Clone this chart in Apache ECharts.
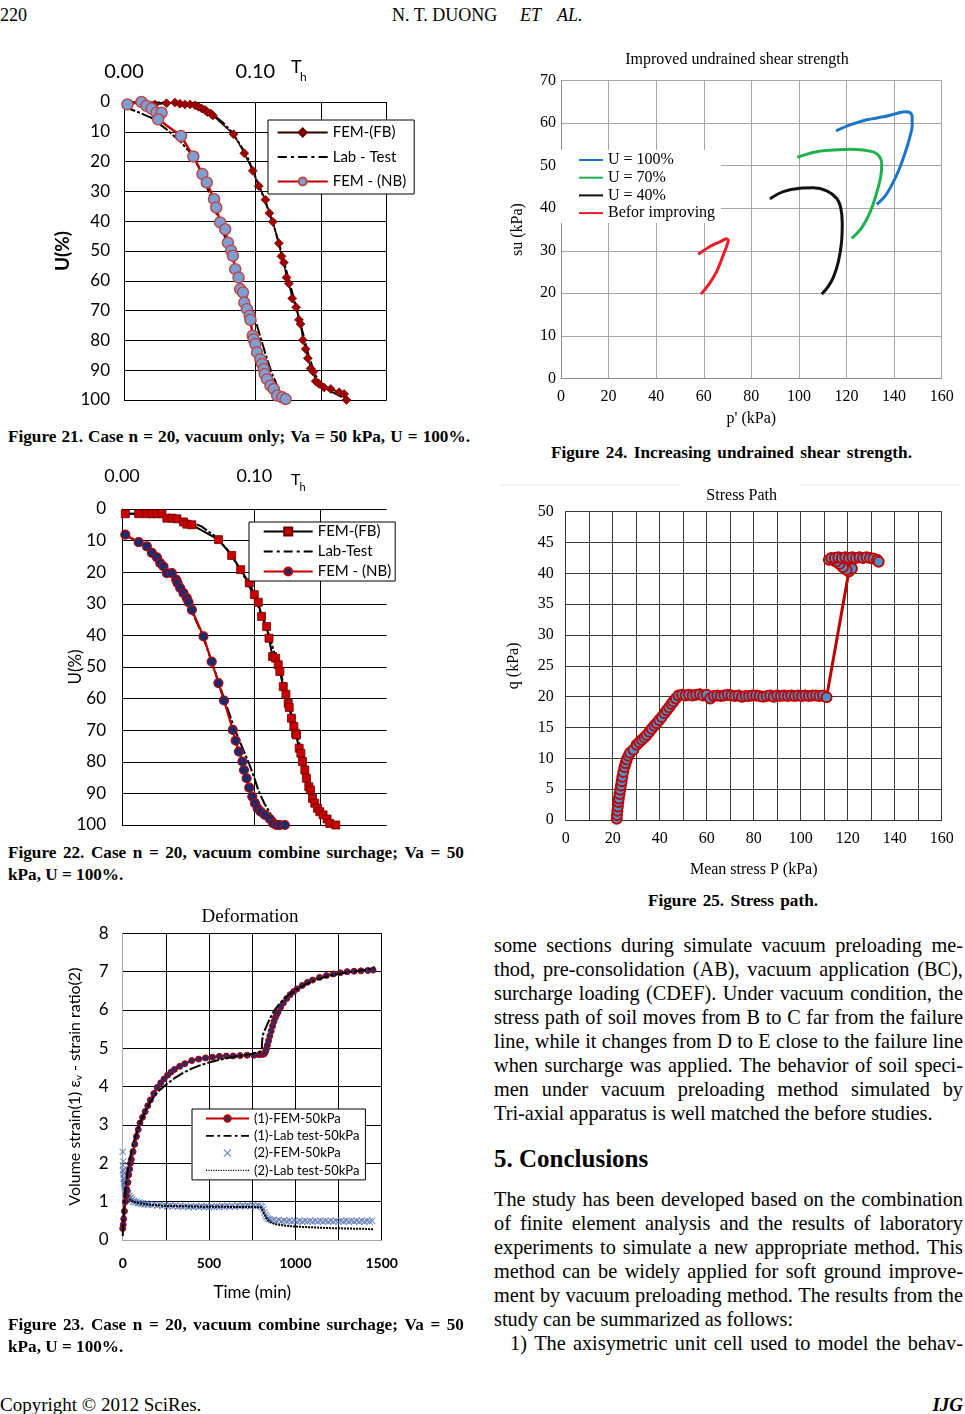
<!DOCTYPE html>
<html><head><meta charset="utf-8">
<script src="https://cdn.jsdelivr.net/npm/echarts@6.0.0/dist/echarts.min.js"></script>
<style>
html,body{margin:0;padding:0;background:#fff;}
body{width:965px;height:1414px;position:relative;overflow:hidden;font-family:'Liberation Serif','Times New Roman',serif;color:#000;}
.c{position:absolute;}
.t{position:absolute;white-space:nowrap;}
.b{font-weight:bold;}
.bd{font-size:20.3px;line-height:24px;height:24px;left:494px;width:469px;}
.cap{font-size:17.2px;line-height:22px;height:22px;font-weight:bold;}
.j{display:flex;justify-content:space-between;}
</style></head><body>

<div class="t" style="left:0;top:4px;font-size:18px;line-height:22px;">220</div>
<div class="t" style="left:392px;top:4px;font-size:18px;line-height:22px;">N. T. DUONG</div>
<div class="t" style="left:520px;top:4px;font-size:18px;line-height:22px;font-style:italic;">ET</div>
<div class="t" style="left:557px;top:4px;font-size:18px;line-height:22px;font-style:italic;">AL.</div>

<div id="d21" class="c" style="left:0;top:45px;width:480px;height:370px;"></div>
<div id="d22" class="c" style="left:0;top:455px;width:480px;height:380px;"></div>
<div id="d23" class="c" style="left:0;top:895px;width:480px;height:420px;"></div>
<div id="d24" class="c" style="left:490px;top:40px;width:475px;height:395px;"></div>
<div id="d25" class="c" style="left:490px;top:478px;width:475px;height:405px;"></div>

<div class="t cap j" style="left:8px;top:426px;width:462px;">Figure 21. Case n = 20, vacuum only; Va = 50 kPa, U = 100%.</div>
<div class="t cap j" style="left:8px;top:842px;width:456px;">Figure 22. Case n = 20, vacuum combine surchage; Va = 50</div>
<div class="t cap" style="left:8px;top:864px;">kPa, U = 100%.</div>
<div class="t cap j" style="left:8px;top:1314px;width:456px;">Figure 23. Case n = 20, vacuum combine surchage; Va = 50</div>
<div class="t cap" style="left:8px;top:1336px;">kPa, U = 100%.</div>
<div class="t cap j" style="left:551px;top:442px;width:361px;">Figure 24. Increasing undrained shear strength.</div>
<div class="t cap j" style="left:648px;top:890px;width:170px;">Figure 25. Stress path.</div>

<div class="t bd j" style="top:933px;">some sections during simulate vacuum preloading me-</div>
<div class="t bd j" style="top:957px;">thod, pre-consolidation (AB), vacuum application (BC),</div>
<div class="t bd j" style="top:981px;">surcharge loading (CDEF). Under vacuum condition, the</div>
<div class="t bd j" style="top:1005px;">stress path of soil moves from B to C far from the failure</div>
<div class="t bd j" style="top:1029px;">line, while it changes from D to E close to the failure line</div>
<div class="t bd j" style="top:1053px;">when surcharge was applied. The behavior of soil speci-</div>
<div class="t bd j" style="top:1077px;">men under vacuum preloading method simulated by</div>
<div class="t bd" style="top:1101px;">Tri-axial apparatus is well matched the before studies.</div>
<div class="t b" style="left:494px;top:1145px;font-size:25px;line-height:28px;">5. Conclusions</div>
<div class="t bd j" style="top:1187px;">The study has been developed based on the combination</div>
<div class="t bd j" style="top:1211px;">of finite element analysis and the results of laboratory</div>
<div class="t bd j" style="top:1235px;">experiments to simulate a new appropriate method. This</div>
<div class="t bd j" style="top:1259px;">method can be widely applied for soft ground improve-</div>
<div class="t bd j" style="top:1283px;">ment by vacuum preloading method. The results from the</div>
<div class="t bd" style="top:1307px;">study can be summarized as follows:</div>
<div class="t bd j" style="top:1331px;left:510px;width:453px;">1) The axisymetric unit cell used to model the behav-</div>

<div class="t" style="left:0;top:1394px;font-size:19px;line-height:22px;">Copyright © 2012 SciRes.</div>
<div class="t" style="left:900px;top:1394px;width:63px;text-align:right;font-size:19px;line-height:22px;font-weight:bold;font-style:italic;">IJG</div>

<script>
// justify lines: each word becomes a flex item spread across the line
document.querySelectorAll('.j').forEach(el => {
  const words = el.textContent.trim().split(/\s+/);
  el.textContent = '';
  words.forEach(w => { const s = document.createElement('span'); s.textContent = w; el.appendChild(s); });
});

// ---------------- DATA ----------------
// Figure 21 (Th, U%)
const fig21_FEM_FB = [[0.0235,0.8],[0.0324,0.4],[0.0388,0.2],[0.0426,0.6],[0.0464,0.8],[0.0503,0.8],[0.0541,1.1],[0.0566,1.6],[0.0592,2.2],[0.0617,2.7],[0.0635,3.4],[0.0661,3.9],[0.0676,4.5],[0.0834,10.8],[0.0916,17.2],[0.098,23.1],[0.1026,28.2],[0.1077,32.8],[0.1107,37.3],[0.1133,40.2],[0.1179,47.4],[0.1199,51.8],[0.1217,53.9],[0.1237,58.9],[0.1255,60.9],[0.1281,65.9],[0.1311,68.9],[0.1332,73.1],[0.1344,74.5],[0.1362,79.9],[0.1383,82.9],[0.14,86.0],[0.1421,89.4],[0.1441,90.5],[0.1459,93.7],[0.1485,94.6],[0.1523,95.8],[0.1574,96.3],[0.1638,97.4],[0.1676,98.0],[0.1694,100]];
const fig21_Lab_FB = [[0,0],[0.03,0.2],[0.045,0.6],[0.055,1.3],[0.062,2.5],[0.068,4.2],[0.075,6.8],[0.082,10],[0.088,14],[0.094,18.5],[0.1,25],[0.105,30.5],[0.11,36.5],[0.115,43],[0.12,50.5],[0.125,59],[0.13,67],[0.135,75.5],[0.14,84],[0.145,91],[0.15,95],[0.157,97],[0.165,98.8],[0.17,100]];
const fig21_Lab_NB = [[0,1.6],[0.012,3.6],[0.0209,5.3],[0.0324,9.2],[0.0426,13.1],[0.0515,17.5],[0.0592,23.7],[0.0656,31.5],[0.0719,39.3],[0.0783,47.2],[0.0847,55.0],[0.0911,62.8],[0.0962,68.9],[0.1013,75.1],[0.1051,80.7],[0.1089,86.3],[0.1128,91.3],[0.1166,95.2],[0.1204,98.6],[0.123,100]];
const fig21_FEM_NB = [[0.0026,0.8],[0.0133,0],[0.0171,1.3],[0.0209,2.2],[0.0247,3.6],[0.0286,3.6],[0.026,5.8],[0.0434,11.4],[0.0528,18.3],[0.0597,24.2],[0.063,27.0],[0.0686,32.6],[0.0702,35.4],[0.0732,40.4],[0.077,42.7],[0.0791,47.2],[0.0816,49.9],[0.0829,51.6],[0.0847,56.1],[0.0872,58.9],[0.0885,62.8],[0.0906,63.9],[0.0916,67.3],[0.0936,69.5],[0.0957,71.7],[0.0962,73.1],[0.098,78.4],[0.0987,79.6],[0.1,81.2],[0.1013,84.0],[0.1038,86.3],[0.1051,87.9],[0.1064,89.6],[0.1071,91.3],[0.1089,93.0],[0.1115,95.2],[0.114,96.3],[0.1166,98.5],[0.1204,99.1],[0.123,99.7]];

// Figure 22 (Th, U%)
const fig22_FEM_FB = [[0.0025,1.5],[0.0126,1.5],[0.0188,1.5],[0.0226,1.5],[0.0264,1.5],[0.0302,1.5],[0.0339,2.9],[0.0377,2.9],[0.0415,3.1],[0.0465,4.1],[0.049,4.8],[0.0528,5.0],[0.0729,9.7],[0.0829,14.7],[0.0897,19.2],[0.0962,23.4],[0.1,27.1],[0.103,29.5],[0.1055,34.0],[0.1093,37.2],[0.1111,40.9],[0.1138,46.7],[0.1161,47.2],[0.1181,49.3],[0.1193,51.4],[0.1219,56.2],[0.1239,58.6],[0.1256,61.5],[0.1264,62.8],[0.1281,66.2],[0.1299,68.8],[0.1312,71.0],[0.1319,71.5],[0.1339,75.7],[0.1352,77.3],[0.1364,79.9],[0.1382,82.6],[0.1394,85.2],[0.1412,87.9],[0.1425,88.9],[0.144,91.6],[0.1457,93.1],[0.1477,94.7],[0.1495,95.8],[0.152,96.8],[0.155,98.1],[0.157,99.5],[0.1616,100]];
const fig22_Lab_FB = [[0,1.5],[0.02,1.5],[0.035,2.2],[0.05,3.8],[0.06,5.5],[0.07,8.5],[0.08,13],[0.09,19.5],[0.1,27.5],[0.11,38.5],[0.12,52],[0.13,68],[0.137,78.5],[0.143,89],[0.148,95],[0.153,98],[0.16,100]];
const fig22_Lab_NB = [[0,8],[0.01,9.8],[0.02,12.5],[0.03,17.5],[0.04,22.5],[0.05,30],[0.06,39],[0.07,51],[0.078,61],[0.085,69.5],[0.091,75.5],[0.0955,80],[0.1,85],[0.103,89],[0.108,93.5],[0.113,97],[0.118,99.3],[0.121,100]];
const fig22_FEM_NB = [[0.0025,8.1],[0.0126,10.5],[0.0188,11.8],[0.0226,13.9],[0.0264,15.3],[0.0289,17.1],[0.0314,18.2],[0.0339,20.3],[0.0377,20.3],[0.041,22.4],[0.042,23.4],[0.044,25.0],[0.0465,26.6],[0.049,28.2],[0.0503,29.5],[0.0528,31.9],[0.0616,40.3],[0.0678,48.3],[0.0729,55.1],[0.0771,60.6],[0.0837,69.9],[0.0859,73.3],[0.0884,76.8],[0.091,79.9],[0.0922,82.6],[0.0942,85.2],[0.0962,88.2],[0.0985,91.0],[0.1005,93.1],[0.1025,94.7],[0.1048,95.8],[0.108,96.8],[0.1118,98.1],[0.1143,99.5],[0.1168,100],[0.1193,100],[0.1231,100]];
const th_tick_labels = [0, 0.1];

// Figure 23 (time min, value)
const fig23_FEM1 = [[0,0.3],[3,0.4],[6,0.55],[10,0.75],[15,1.0],[20,1.15],[25,1.3],[30,1.5],[35,1.7],[40,1.85],[45,2.0],[50,2.1],[60,2.3],[70,2.5],[80,2.7],[90,2.88],[100,3.05],[115,3.2],[130,3.35],[145,3.5],[160,3.65],[180,3.82],[200,3.98],[220,4.1],[240,4.2],[260,4.3],[280,4.38],[300,4.45],[330,4.53],[360,4.6],[400,4.68],[440,4.72],[480,4.75],[520,4.77],[560,4.79],[600,4.8],[640,4.8],[680,4.81],[720,4.82],[760,4.82],[790,4.83],[810,4.84],[820,4.86],[826,4.9],[832,4.98],[838,5.08],[845,5.2],[852,5.32],[860,5.45],[868,5.58],[876,5.7],[884,5.8],[892,5.88],[900,5.95],[915,6.08],[930,6.18],[950,6.3],[970,6.4],[990,6.48],[1010,6.55],[1040,6.64],[1070,6.72],[1100,6.78],[1140,6.85],[1180,6.9],[1220,6.94],[1260,6.97],[1300,7.0],[1340,7.01],[1380,7.02],[1420,7.03],[1450,7.04]];
const fig23_Lab1 = [[0,0.1],[3,0.4],[6,0.7],[10,1.0],[15,1.3],[20,1.5],[30,1.85],[40,2.1],[50,2.3],[60,2.5],[80,2.8],[100,3.05],[130,3.35],[160,3.6],[200,3.85],[250,4.05],[300,4.22],[350,4.36],[400,4.47],[450,4.56],[500,4.63],[550,4.69],[600,4.74],[650,4.78],[700,4.82],[750,4.86],[790,4.9],[805,4.95],[808,5.2],[812,5.35],[820,5.45],[835,5.6],[850,5.75],[873,5.95],[900,6.12],[950,6.35],[1000,6.52],[1050,6.65],[1100,6.75],[1150,6.83],[1200,6.89],[1250,6.94],[1300,6.98],[1350,7.01],[1400,7.04],[1440,7.08],[1460,7.12]];
const fig23_FEM2 = [[0,2.3],[1,1.95],[2,1.8],[3,2.05],[4,1.7],[5,1.6],[6,1.85],[7,1.5],[8,1.75],[9,1.45],[10,1.62],[11,1.4],[12,1.55],[13,1.35],[14,1.5],[15,1.3],[17,1.42],[19,1.28],[21,1.35],[23,1.22],[25,1.3],[28,1.18],[31,1.22],[34,1.12],[38,1.15],[42,1.08],[46,1.1],[50,1.04],[55,1.06],[60,1.0],[66,1.02],[72,0.98],[80,1.0],[88,0.96],[96,0.98],[105,0.94],[115,0.96],[125,0.93],[135,0.95],[145,0.92],[155,0.94],[170,0.91],[185,0.93],[200,0.9],[215,0.92],[230,0.89],[245,0.91],[260,0.88],[275,0.9],[290,0.88],[305,0.9],[320,0.87],[335,0.89],[350,0.87],[365,0.89],[380,0.86],[395,0.88],[410,0.86],[425,0.88],[440,0.86],[455,0.88],[470,0.86],[485,0.88],[500,0.86],[515,0.88],[530,0.86],[545,0.88],[560,0.87],[575,0.89],[590,0.87],[605,0.89],[620,0.87],[635,0.89],[650,0.87],[665,0.9],[680,0.88],[695,0.9],[710,0.88],[725,0.9],[740,0.88],[755,0.9],[770,0.88],[785,0.9],[800,0.89],[808,0.86],[814,0.8],[820,0.72],[826,0.65],[832,0.6],[840,0.56],[850,0.54],[860,0.52],[875,0.53],[890,0.5],[905,0.52],[920,0.49],[935,0.51],[950,0.49],[965,0.51],[980,0.48],[995,0.5],[1010,0.48],[1025,0.5],[1040,0.48],[1055,0.5],[1070,0.48],[1085,0.5],[1100,0.48],[1115,0.5],[1130,0.48],[1145,0.5],[1160,0.48],[1175,0.5],[1190,0.48],[1205,0.5],[1220,0.48],[1235,0.5],[1250,0.48],[1265,0.5],[1280,0.48],[1295,0.5],[1310,0.48],[1325,0.5],[1340,0.48],[1355,0.5],[1370,0.48],[1385,0.5],[1400,0.48],[1415,0.5],[1430,0.48],[1445,0.5]];
const fig23_Lab2 = [[10,1.25],[15,1.15],[25,1.09],[40,1.05],[60,1.0],[100,0.96],[160,0.92],[250,0.89],[350,0.88],[450,0.87],[550,0.87],[650,0.86],[750,0.86],[800,0.85],[810,0.8],[820,0.68],[830,0.58],[845,0.5],[860,0.45],[880,0.42],[900,0.4],[950,0.37],[1000,0.35],[1100,0.33],[1200,0.31],[1300,0.3],[1400,0.29],[1450,0.28]];
const time_tick_labels = [0, 500, 1000, 1500];

// Figure 24 (p', su)
const fig24_U100 = [[115.6,58.2],[121.5,59.6],[128.5,60.8],[135.5,61.5],[141.1,62.3],[144.6,62.7],[146.6,62.5],[147.6,61.4],[147.6,59.6],[146.5,56.5],[144.5,52.8],[142,49],[139.7,46.2],[136.5,43.1],[132.7,40.9]];
const fig24_U70 = [[99.3,52],[107.5,53.3],[114.5,53.7],[121.5,53.9],[127,53.7],[131.5,53.2],[133.8,52.2],[134.8,50.6],[134.4,47.5],[132.6,43.5],[130,39.2],[126.5,35.5],[122.2,32.9]];
const fig24_U40 = [[87.8,42.2],[93.4,43.9],[100.5,44.7],[106,44.8],[111.7,44.1],[115.9,42.3],[117.6,40],[118.2,36.5],[117.9,32],[116.6,27.5],[114.5,23.8],[112.2,21.5],[109.6,19.8]];
const fig24_Before = [[57.7,29.2],[62.6,31],[66.8,32.1],[69.6,32.8],[70.3,32.5],[68.2,29],[65.4,25.1],[61.9,21.9],[58.8,19.8]];

// Figure 25 (P, q)
const fig25_path = [[21.7,0.2],[21.8,0.8],[22.0,1.5],[22.2,2.2],[22.4,2.9],[22.6,3.5],[22.9,4.2],[23.2,4.9],[23.5,5.6],[23.8,6.3],[24.1,7.0],[24.5,7.8],[25.0,8.6],[25.5,9.2],[26.0,9.8],[26.7,10.4],[27.4,10.9],[28.8,11.4],[30.2,12.2],[31.3,12.6],[32.4,13.0],[33.5,13.4],[34.5,13.8],[35.6,14.3],[36.6,14.8],[37.7,15.3],[38.7,15.7],[39.8,16.2],[40.9,16.7],[42.0,17.3],[43.0,17.8],[44.0,18.3],[45.0,18.8],[45.8,19.2],[46.9,19.7],[48.0,20.2],[49.5,20.3],[51,20.2],[52.5,20.3],[54,20.2],[55.5,20.3],[57,20.4],[58.5,20.2],[60,20.3],[61.5,19.7],[63,20.1],[64.5,20.2],[66,20.1],[67.5,20.2],[69,20.3],[70.5,20.2],[72,20.1],[73.5,20.2],[75,20.0],[76.5,20.1],[78,20.1],[79.5,20.2],[81,20.2],[82.5,20.1],[84,20.0],[85.5,20.1],[87,20.2],[88.5,20.0],[90,20.2],[91.5,20.1],[93,20.2],[94.5,20.1],[96,20.2],[97.5,20.1],[99,20.2],[100.5,20.1],[102,20.2],[103.5,20.1],[105,20.2],[106.5,20.2],[108,20.1],[109.5,20.2],[111,19.9],[120.5,40.3],[121.8,40.8],[119.5,40.6],[118,41.0],[116.5,41.5],[115,41.9],[113.5,42.2],[112,42.2],[113,42.5],[114.5,42.5],[116,42.6],[117.5,42.5],[119,42.6],[120.5,42.5],[122,42.6],[123.5,42.5],[125,42.6],[126.5,42.5],[128,42.6],[129.5,42.5],[131,42.4],[132.5,42.2],[133.2,41.9]];
const p_tick_step = 20;

// ---------------- STYLE HELPERS ----------------
const DASHDOT = 'path://M0,0h9v2h-9zM13,0h3v2h-3zM20,0h9v2h-9zM33,0h3v2h-3zM40,0h9v2h-9z';
function dotIcon(w){ let s='path://'; for(let x=0;x<w;x+=2.4){ s+='M'+x.toFixed(1)+',0h1.1v1.1h-1.1z'; } return s; }
const XSYM = 'path://M0,1L1,0L5,4L9,0L10,1L6,5L10,9L9,10L5,6L1,10L0,9L4,5Z';
const near = (a,b)=>Math.abs(a-b)<1e-9;
function mk(id, opt){ const c = echarts.init(document.getElementById(id)); c.setOption(opt); }
const hidden = {color:'rgba(0,0,0,0)'};

function thChart(o){
  return {
    animation:false,
    grid:o.grid,
    xAxis:{type:'value', position:'top', min:0, max:0.2, interval:0.05,
      axisLine:{show:false}, axisTick:{show:false},
      axisLabel:{formatter:v=> th_tick_labels.some(t=>near(t,v)) ? v.toFixed(2) : '', fontFamily:'Lato', fontSize:o.xFont, color:'#000', margin:o.xMargin},
      splitLine:{show:true, lineStyle:{color:o.vColors, width:1}}},
    yAxis:{type:'value', inverse:true, min:0, max:100, interval:10,
      axisLine:{show:true, lineStyle:{color:'#000', width:1}}, axisTick:{show:false},
      axisLabel:{fontFamily:'Lato', fontSize:17, color:'#000', margin:o.yMargin},
      splitLine:{show:true, lineStyle:{color:'#000', width:1}},
      name:'U(%)', nameLocation:'middle', nameGap:o.nameGap, nameMoveOverlap:false,
      nameTextStyle:{fontFamily:'Lato', fontSize:o.nameSize, fontWeight:o.nameWeight, color:'#000'}},
    legend:Object.assign({orient:'vertical', backgroundColor:'#fff', borderColor:'#000', borderWidth:1, borderRadius:0,
      itemWidth:50, itemHeight:10, textStyle:{fontFamily:'Lato', fontSize:15, color:'#000'}}, o.legend),
    graphic:[
      {type:'text', x:o.T[0], y:o.T[1], style:{text:'T', font:o.T[2]+'px Lato', fill:'#000'}},
      {type:'text', x:o.h[0], y:o.h[1], style:{text:'h', font:o.h[2]+'px Lato', fill:'#000'}}
    ],
    series:o.series
  };
}

// ---------------- FIGURE 21 ----------------
mk('d21', thChart({
  grid:{left:124, top:57, width:262.7, height:298},
  xFont:20, xMargin:20, yMargin:14, nameGap:52, nameSize:19, nameWeight:'bold',
  vColors:['#000','rgba(0,0,0,0)','#000','#000','#000'],
  T:[291,13,18], h:[300,26,12],
  legend:{left:268, top:75, padding:[5,8,5,8.7], itemGap:9.5,
    data:['FEM-(FB)', {name:'Lab - Test', icon:DASHDOT, itemStyle:{color:'#000'}}, 'FEM - (NB)']},
  series:[
    {name:'Lab - Test', type:'line', data:fig21_Lab_NB, symbol:'circle', showSymbol:false, itemStyle:hidden, lineStyle:{color:'#000', width:2, type:[12,2,3,2]}, z:2},
    {name:'Lab - Test', type:'line', data:fig21_Lab_FB, symbol:'circle', showSymbol:false, itemStyle:hidden, lineStyle:{color:'#000', width:2, type:[12,2,3,2]}, z:2},
    {name:'FEM-(FB)', type:'line', data:fig21_FEM_FB, symbol:'diamond', symbolSize:9, showAllSymbol:true,
      itemStyle:{color:'#a00000', borderColor:'#5a0000', borderWidth:0.6}, lineStyle:{color:'#2a0000', width:1.5}, z:3},
    {name:'FEM - (NB)', type:'line', data:fig21_FEM_NB, symbol:'circle', symbolSize:11, showAllSymbol:true,
      itemStyle:{color:'#7d9fd3', borderColor:'#b84a4a', borderWidth:1.5}, lineStyle:{color:'#c00000', width:2.5}, z:4}
  ]
}));

// ---------------- FIGURE 22 ----------------
mk('d22', thChart({
  grid:{left:122, top:54, width:264.6, height:316},
  xFont:18, xMargin:24, yMargin:16, nameGap:38, nameSize:17, nameWeight:'normal',
  vColors:['#000','rgba(0,0,0,0)','#000','#000','rgba(0,0,0,0)'],
  T:[291,17,16], h:[299.5,27,11],
  legend:{left:249, top:67, padding:[2,4,2,13.7], itemGap:5, itemWidth:49,
    data:['FEM-(FB)', {name:'Lab-Test', icon:DASHDOT, itemStyle:{color:'#000'}}, 'FEM - (NB)']},
  series:[
    {name:'Lab-Test', type:'line', data:fig22_Lab_NB, symbol:'circle', showSymbol:false, itemStyle:hidden, lineStyle:{color:'#000', width:2, type:[12,2,3,2]}, z:2},
    {name:'Lab-Test', type:'line', data:fig22_Lab_FB, symbol:'circle', showSymbol:false, itemStyle:hidden, lineStyle:{color:'#000', width:2, type:[12,2,3,2]}, z:2},
    {name:'FEM-(FB)', type:'line', data:fig22_FEM_FB, symbol:'rect', symbolSize:8, showAllSymbol:true,
      itemStyle:{color:'#c80000', borderColor:'#6a0000', borderWidth:0.8}, lineStyle:{color:'#000', width:2}, z:3},
    {name:'FEM - (NB)', type:'line', data:fig22_FEM_NB, symbol:'circle', symbolSize:9, showAllSymbol:true,
      itemStyle:{color:'#1c2a6b', borderColor:'#c00000', borderWidth:1.2}, lineStyle:{color:'#c00000', width:2.2}, z:4}
  ]
}));

// ---------------- FIGURE 23 ----------------
mk('d23', {
  animation:false,
  grid:{left:122.7, top:38.3, width:259, height:306.7},
  xAxis:{type:'value', min:0, max:1500, interval:250,
    axisLine:{show:true, lineStyle:{color:'#a6a6a6'}}, axisTick:{show:false},
    axisLabel:{formatter:v=> time_tick_labels.indexOf(v)>=0 ? String(v) : '', fontFamily:'Lato', fontSize:14, fontWeight:'bold', color:'#000', margin:16},
    splitLine:{show:true, lineStyle:{color:'#000'}},
    name:'Time (min)', nameLocation:'middle', nameGap:44, nameMoveOverlap:false, nameTextStyle:{fontFamily:'Lato', fontSize:17, color:'#000'}},
  yAxis:{type:'value', min:0, max:8, interval:1,
    axisLine:{show:true, lineStyle:{color:'#a6a6a6'}}, axisTick:{show:false},
    axisLabel:{fontFamily:'Lato', fontSize:17, color:'#000', margin:14},
    splitLine:{show:true, lineStyle:{color:'#000'}},
    name:'Volume strain(1) ε{s|v} - strain ratio(2)', nameLocation:'middle', nameGap:39, nameMoveOverlap:false,
    nameTextStyle:{fontFamily:'Lato', fontSize:16, color:'#000', rich:{s:{fontFamily:'Lato', fontSize:10, color:'#000', padding:[8,0,0,0]}}}},
  graphic:[{type:'text', x:250, y:22, style:{text:'Deformation', font:'19px "Liberation Serif"', fill:'#000', textAlign:'center', align:'center', textVerticalAlign:'middle', verticalAlign:'middle'}}],
  legend:{left:192, top:214, orient:'vertical', backgroundColor:'#fff', borderColor:'#000', borderWidth:1, borderRadius:0,
    padding:[3,6,3,13], itemGap:4.3, itemWidth:43, itemHeight:8, textStyle:{fontFamily:'Lato', fontSize:13, color:'#000'},
    data:['(1)-FEM-50kPa', {name:'(1)-Lab test-50kPa', icon:DASHDOT, itemStyle:{color:'#000'}}, '(2)-FEM-50kPa', {name:'(2)-Lab test-50kPa', icon:dotIcon(43), itemStyle:{color:'#000'}}]},
  series:[
    {name:'(2)-FEM-50kPa', type:'scatter', data:fig23_FEM2, symbol:XSYM, symbolSize:7, itemStyle:{color:'#4d6cb0'}, z:2},
    {name:'(2)-Lab test-50kPa', type:'line', data:fig23_Lab2, symbol:'circle', showSymbol:false, itemStyle:hidden, lineStyle:{color:'#000', width:2, type:[2,1]}, z:3},
    {name:'(1)-FEM-50kPa', type:'line', data:fig23_FEM1, symbol:'circle', symbolSize:6, showAllSymbol:true,
      itemStyle:{color:'#2a2a6a', borderColor:'#b00000', borderWidth:1}, lineStyle:{color:'#c00000', width:2.5}, z:3},
    {name:'(1)-Lab test-50kPa', type:'line', data:fig23_Lab1, symbol:'circle', showSymbol:false, itemStyle:hidden, lineStyle:{color:'#000', width:2, type:[12,2,3,2]}, z:4}
  ]
});

// ---------------- FIGURE 24 ----------------
const serif = 'Liberation Serif';
function suLine(name, data, color, smooth){
  return {name, type:'line', data, smooth, symbol:'circle', showSymbol:false, itemStyle:hidden, lineStyle:{color, width:3}};
}
mk('d24', {
  animation:false,
  grid:{left:71, top:40.7, width:380.7, height:297.6},
  xAxis:{type:'value', min:0, max:160, interval:20,
    axisLine:{show:true, lineStyle:{color:'#8c8c8c'}}, axisTick:{show:false},
    axisLabel:{fontFamily:serif, fontSize:16, color:'#000', margin:10},
    splitLine:{show:true, lineStyle:{color:'#a6a6a6'}},
    name:"p' (kPa)", nameLocation:'middle', nameGap:32, nameMoveOverlap:false, nameTextStyle:{fontFamily:serif, fontSize:16, color:'#000'}},
  yAxis:{type:'value', min:0, max:70, interval:10,
    axisLine:{show:true, lineStyle:{color:'#8c8c8c'}}, axisTick:{show:false},
    axisLabel:{fontFamily:serif, fontSize:16, color:'#000', margin:5},
    splitLine:{show:true, lineStyle:{color:'#a6a6a6'}},
    name:'su (kPa)', nameLocation:'middle', nameGap:35, nameMoveOverlap:false, nameTextStyle:{fontFamily:serif, fontSize:16, color:'#000'}},
  graphic:[{type:'text', x:247, y:20, style:{text:'Improved undrained shear strength', font:'16px "Liberation Serif"', fill:'#000', textAlign:'center', align:'center', textVerticalAlign:'middle', verticalAlign:'middle'}}],
  legend:{left:71, top:110, orient:'vertical', backgroundColor:'#fff', padding:[2,6,2,17], itemGap:1.7, itemWidth:24, itemHeight:10,
    textStyle:{fontFamily:serif, fontSize:16, color:'#000'},
    data:['U = 100%','U = 70%','U = 40%','Befor improving']},
  series:[
    suLine('U = 100%', fig24_U100, '#1b76c9', 0.35),
    suLine('U = 70%', fig24_U70, '#1fb14f', 0.35),
    suLine('U = 40%', fig24_U40, '#111111', 0.35),
    suLine('Befor improving', fig24_Before, '#ee1c25', 0.2)
  ]
});

// ---------------- FIGURE 25 ----------------
mk('d25', {
  animation:false,
  grid:{left:75.7, top:33.7, width:376, height:311},
  xAxis:{type:'value', min:0, max:160, interval:10,
    axisLine:{show:true, lineStyle:{color:'#333'}}, axisTick:{show:false},
    axisLabel:{formatter:v=> v % p_tick_step === 0 ? String(v) : '', fontFamily:serif, fontSize:16, color:'#000', margin:11},
    splitLine:{show:true, lineStyle:{color:'#3a3a3a'}},
    name:'Mean stress P (kPa)', nameLocation:'middle', nameGap:42, nameMoveOverlap:false, nameTextStyle:{fontFamily:serif, fontSize:16, color:'#000'}},
  yAxis:{type:'value', min:0, max:50, interval:5,
    axisLine:{show:true, lineStyle:{color:'#333'}}, axisTick:{show:false},
    axisLabel:{fontFamily:serif, fontSize:16, color:'#000', margin:12},
    splitLine:{show:true, lineStyle:{color:'#3a3a3a'}},
    name:'q (kPa)', nameLocation:'middle', nameGap:44, nameMoveOverlap:false, nameTextStyle:{fontFamily:serif, fontSize:16, color:'#000'}},
  graphic:[
    {type:'line', shape:{x1:10, y1:7, x2:190, y2:7}, style:{stroke:'#e4e4e4', lineWidth:1}},
    {type:'line', shape:{x1:310, y1:7, x2:470, y2:7}, style:{stroke:'#e4e4e4', lineWidth:1}},
    {type:'text', x:251.7, y:17.7, style:{text:'Stress Path', font:'16px "Liberation Serif"', fill:'#000', textAlign:'center', align:'center', textVerticalAlign:'middle', verticalAlign:'middle'}}
  ],
  series:[
    {name:'Stress path', type:'line', data:fig25_path, symbol:'circle', symbolSize:10, showAllSymbol:true,
      itemStyle:{color:'#4b93c9', borderColor:'#c00000', borderWidth:2}, lineStyle:{color:'#c00000', width:3}}
  ]
});
</script>
</body></html>
